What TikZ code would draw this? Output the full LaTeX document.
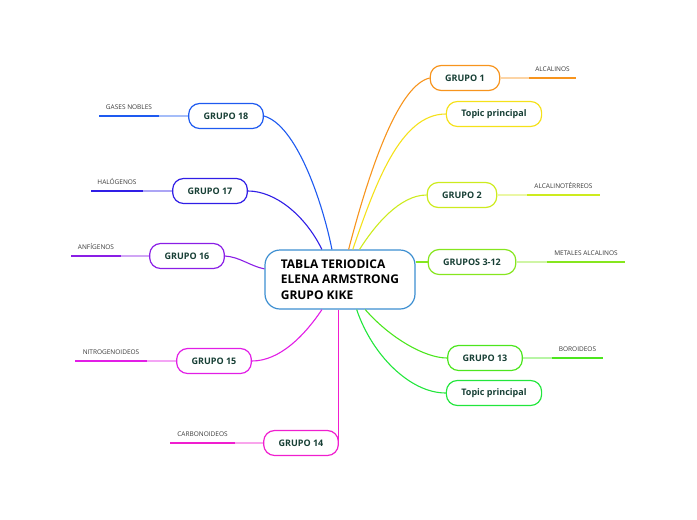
\documentclass[tikz,border=0pt]{standalone}
\usepackage{fontspec}
\setmainfont{Open Sans}
\usetikzlibrary{positioning}
\definecolor{mblue}{HTML}{3D8FD1}
\definecolor{mtext}{HTML}{173F35}
\definecolor{mgray}{HTML}{3A3A3A}
\definecolor{morange}{HTML}{F7941D}
\definecolor{myellow}{HTML}{F5E11A}
\definecolor{mlime}{HTML}{CDEB1E}
\definecolor{mlight}{HTML}{86E61E}
\definecolor{mgreen}{HTML}{4CE61E}
\definecolor{memerald}{HTML}{22E63C}
\definecolor{mpink}{HTML}{F01ECF}
\definecolor{mmagenta}{HTML}{E21EE6}
\definecolor{mpurple}{HTML}{8A1EE6}
\definecolor{mindigo}{HTML}{301EE6}
\definecolor{mazure}{HTML}{1E5AF0}
\tikzset{tema/.style = {draw=mblue, fill=white, rounded corners=15, line width=1.2,
                        minimum width=150, minimum height=59, align=left,
                        font=\bfseries\fontsize{12}{15.5}\selectfont}}
\tikzset{grupo/.style = {draw, fill=white, rounded corners=11, line width=1.2,
                         minimum height=25, inner xsep=15, text=mtext,
                         font=\bfseries\fontsize{9}{10}\selectfont}}
\tikzset{rama/.style = {line width=1.1}}
\tikzset{hoja/.style = {line width=2}}
\tikzset{etiqueta/.style = {font=\fontsize{6.5}{7}\selectfont, text=mgray, anchor=south, yshift=2pt}}

\begin{document}
\begin{tikzpicture}[x=1pt, y=-1pt]
      \useasboundingbox (0, 0) rectangle (697, 520);
      \node [tema] (tabla) at (340, 279.5) {TABLA TERIODICA\\ELENA ARMSTRONG\\GRUPO KIKE};
      \node [grupo, draw=morange] (g1) at (465, 78) {GRUPO 1};
      \node [grupo, draw=myellow] (tt) at (494, 114) {Topic principal};
      \node [grupo, draw=mlime] (g2) at (462, 195) {GRUPO 2};
      \node [grupo, draw=mlight] (g312) at (472, 262) {GRUPOS 3-12};
      \node [grupo, draw=mgreen] (g13) at (485, 358) {GRUPO 13};
      \node [grupo, draw=memerald] (tb) at (494, 393) {Topic principal};
      \node [grupo, draw=mpink] (g14) at (301, 443) {GRUPO 14};
      \node [grupo, draw=mmagenta] (g15) at (214, 361) {GRUPO 15};
      \node [grupo, draw=mpurple] (g16) at (187, 256) {GRUPO 16};
      \node [grupo, draw=mindigo] (g17) at (210, 191) {GRUPO 17};
      \node [grupo, draw=mazure] (g18) at (226, 116) {GRUPO 18};
      \draw [rama, morange] (tabla.74.8) .. controls (372, 160) and (400, 85) .. (g1.west);
      \draw [rama, myellow] (tabla.67.9) .. controls (375, 185) and (400, 114) .. (tt.west);
      \draw [rama, mlime] (tabla.57.2) .. controls (375, 225) and (400, 195) .. (g2.west);
      \draw [rama, mlight] (tabla.east |- g312.west) -- (g312.west);
      \draw [rama, mgreen] (tabla.-50.9) .. controls (390, 338) and (425, 358) .. (g13.west);
      \draw [rama, memerald] (tabla.-61.5) .. controls (372, 355) and (410, 393) .. (tb.west);
      \draw [rama, mpink] (tabla.south -| g14.east) -- (g14.east);
      \draw [rama, mmagenta] (tabla.-121.4) .. controls (305, 335) and (280, 361) .. (g15.east);
      \draw [rama, mpurple] (tabla.172.8) .. controls (250, 266) and (240, 257) .. (g16.east);
      \draw [rama, mindigo] (tabla.121.4) .. controls (305, 215) and (275, 191) .. (g17.east);
      \draw [rama, mazure] (tabla.105.2) .. controls (322, 200) and (296, 125) .. (g18.east);
      \coordinate (a1) at (529, 78);   \coordinate (b1) at (576, 78);
      \coordinate (a2) at (527, 195);  \coordinate (b2) at (600, 195);
      \coordinate (a3) at (547, 262);  \coordinate (b3) at (625, 262);
      \coordinate (a4) at (552, 358);  \coordinate (b4) at (603, 358);
      \coordinate (a5) at (235, 443);  \coordinate (b5) at (170, 443);
      \coordinate (a6) at (147, 361);  \coordinate (b6) at (75, 361);
      \coordinate (a7) at (121, 256);  \coordinate (b7) at (71, 256);
      \coordinate (a8) at (143, 191);  \coordinate (b8) at (91, 191);
      \coordinate (a9) at (159, 116);  \coordinate (b9) at (99, 116);
      \draw [rama, morange!40] (g1.east) -- (a1);
      \draw [hoja, morange] (a1) -- (b1) node [etiqueta, midway] {ALCALINOS};
      \draw [rama, mlime!40] (g2.east) -- (a2);
      \draw [hoja, mlime] (a2) -- (b2) node [etiqueta, midway] {ALCALINOTÉRREOS};
      \draw [rama, mlight!40] (g312.east) -- (a3);
      \draw [hoja, mlight] (a3) -- (b3) node [etiqueta, midway] {METALES ALCALINOS};
      \draw [rama, mgreen!40] (g13.east) -- (a4);
      \draw [hoja, mgreen] (a4) -- (b4) node [etiqueta, midway] {BOROIDEOS};
      \draw [rama, mpink!40] (g14.west) -- (a5);
      \draw [hoja, mpink] (a5) -- (b5) node [etiqueta, midway] {CARBONOIDEOS};
      \draw [rama, mmagenta!40] (g15.west) -- (a6);
      \draw [hoja, mmagenta] (a6) -- (b6) node [etiqueta, midway] {NITROGENOIDEOS};
      \draw [rama, mpurple!40] (g16.west) -- (a7);
      \draw [hoja, mpurple] (a7) -- (b7) node [etiqueta, midway] {ANFÍGENOS};
      \draw [rama, mindigo!40] (g17.west) -- (a8);
      \draw [hoja, mindigo] (a8) -- (b8) node [etiqueta, midway] {HALÓGENOS};
      \draw [rama, mazure!40] (g18.west) -- (a9);
      \draw [hoja, mazure] (a9) -- (b9) node [etiqueta, midway] {GASES NOBLES};
    \end{tikzpicture}
\end{document}
